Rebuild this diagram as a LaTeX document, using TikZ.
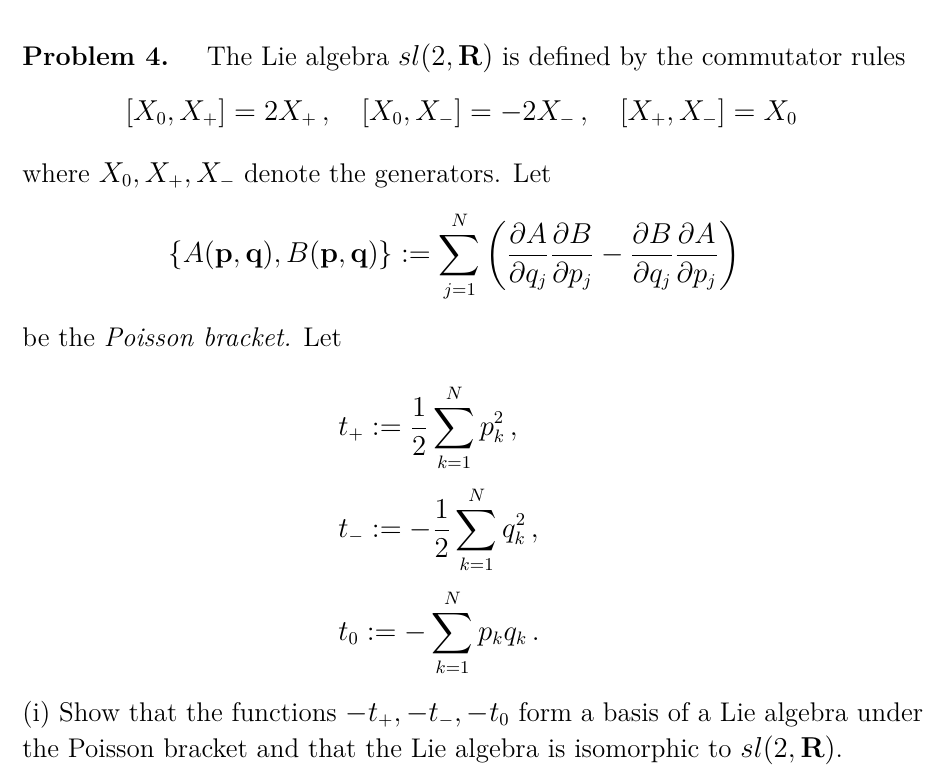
\documentclass[tikz,border=0pt]{standalone}
\usepackage{amsmath}
\begin{document}
\begin{tikzpicture}[x=0.5pt,y=-0.5pt,
  txt/.style={anchor=base west,inner sep=0pt,font=\fontsize{13.5}{16}\selectfont},
  eq/.style={anchor=west,inner sep=0pt,font=\fontsize{13.5}{16}\selectfont}]
\useasboundingbox (0,0) rectangle (934,766);
\node[txt] (l1) at (22,65) {\textbf{Problem 4.}\hspace{1.4em}The Lie algebra $sl(2,\mathbf{R})$ is defined by the commutator rules};
\node[txt] (l2) at (125,120) {$[X_0,X_+]=2X_+\,,\quad [X_0,X_-]=-2X_-\,,\quad [X_+,X_-]=X_0$};
\node[txt] (l3) at (22,182) {where $X_0,X_+,X_-$ denote the generators. Let};
\node[eq] (pb) at (168,257) {$\displaystyle \{A(\mathbf{p},\mathbf{q}),B(\mathbf{p},\mathbf{q})\}:=\sum_{j=1}^{N}\left(\frac{\partial A}{\partial q_j}\frac{\partial B}{\partial p_j}-\frac{\partial B}{\partial q_j}\frac{\partial A}{\partial p_j}\right)$};
\node[txt] (l4) at (22,346) {be the \emph{Poisson bracket.} Let};
\node[eq] (tp) at (338,428) {$\displaystyle t_+:=\frac12\sum_{k=1}^{N}p_k^2\,,$};
\node[eq] (tm) at (338,530) {$\displaystyle t_-:=-\frac12\sum_{k=1}^{N}q_k^2\,,$};
\node[eq] (tz) at (338,633) {$\displaystyle t_0:=-\sum_{k=1}^{N}p_kq_k\,.$};
\node[txt] (l5) at (22,721) {(i) Show that the functions $-t_+,-t_-,-t_0$ form a basis of a Lie algebra under};
\node[txt] (l6) at (22,757) {the Poisson bracket and that the Lie algebra is isomorphic to $sl(2,\mathbf{R})$.};
\end{tikzpicture}
\end{document}
